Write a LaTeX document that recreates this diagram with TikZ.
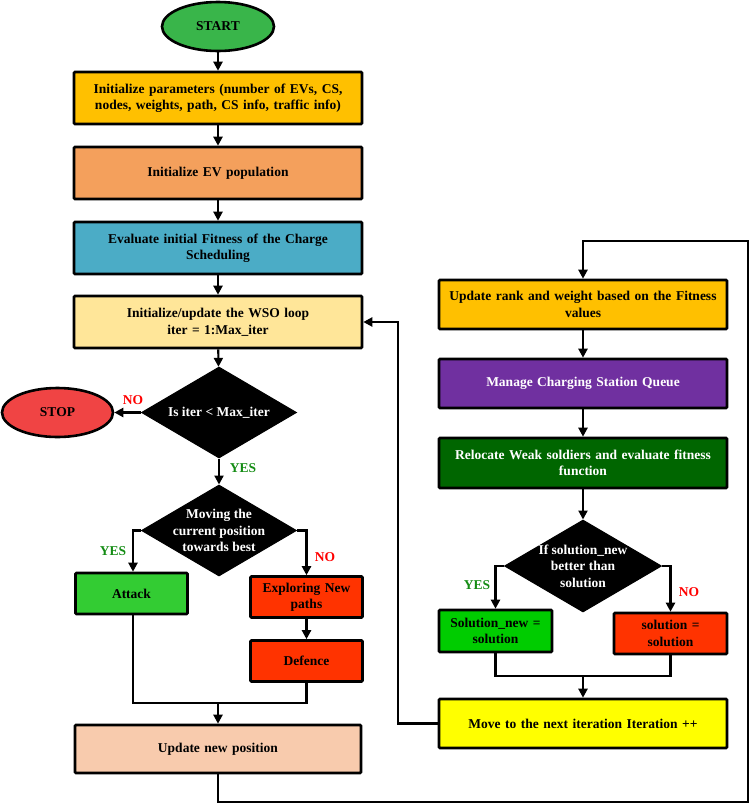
\documentclass[tikz,border=0pt]{standalone}
\usepackage{fontspec}
\setmainfont{Liberation Serif}
\usetikzlibrary{shapes.geometric,arrows.meta}
\definecolor{cstart}{RGB}{57,181,74}
\definecolor{cinit}{RGB}{255,192,0}
\definecolor{cpop}{RGB}{244,160,92}
\definecolor{ceval}{RGB}{75,172,198}
\definecolor{cwso}{RGB}{255,230,153}
\definecolor{cstop}{RGB}{240,68,68}
\definecolor{cattack}{RGB}{51,204,51}
\definecolor{cred}{RGB}{255,51,0}
\definecolor{cupd}{RGB}{248,203,173}
\definecolor{cpurple}{RGB}{112,48,160}
\definecolor{cdgreen}{RGB}{0,102,0}
\definecolor{cgreen}{RGB}{0,204,0}
\definecolor{cyellow}{RGB}{255,255,0}
\definecolor{yesgreen}{RGB}{20,140,20}
\definecolor{nored}{RGB}{255,0,0}
\tikzset{
  every node/.style={font=\fontsize{13.5}{16.5}\selectfont\bfseries},
  box/.style={draw=black, line width=2.6pt, rectangle, rounded corners=1pt, align=center, inner sep=2pt},
  bigbox/.style={box, minimum width=288pt, minimum height=52pt, text width=280pt},
  smallbox/.style={box, minimum width=111pt, minimum height=41pt, text width=108pt},
  oval/.style={draw=black, line width=2.6pt, ellipse, minimum width=111pt, minimum height=49pt, inner sep=0pt},
  dia/.style={draw=black, line width=1pt, fill=black, diamond, minimum width=155pt, minimum height=91pt, inner sep=0pt},
  dtext/.style={text=white, align=center, inner sep=0pt},
  conn/.style={line width=2.2pt},
  arr/.style={conn, -{Triangle[length=9pt,width=9pt]}},
  yes/.style={text=yesgreen},
  no/.style={text=nored}
}
\begin{document}
\begin{tikzpicture}[x=1pt,y=-1pt]
\useasboundingbox (0,0) rectangle (750,804);
% left column
\node[oval, fill=cstart, minimum width=112pt] (start) at (218,26.5) {START};
\node[bigbox, fill=cinit] (init) at (218,98) {Initialize parameters (number of EVs, CS,\\ nodes, weights, path, CS info, traffic info)};
\node[bigbox, fill=cpop] (pop) at (218,173) {Initialize EV population};
\node[bigbox, fill=ceval] (eval) at (218,248) {Evaluate initial Fitness of the Charge\\ Scheduling};
\node[bigbox, fill=cwso] (wso) at (218,322) {Initialize/update the WSO loop\\ iter = 1:Max\_iter};
\node[dia] (d1) at (219,412.5) {};
\node[dtext] (d1t) at (d1.center) {Is iter < Max\_iter};
\node[oval, fill=cstop] (stop) at (57.5,412.5) {STOP};
\node[dia] (d2) at (219,530.5) {};
\node[dtext] (d2t) at (d2.center) {Moving the\\ current position\\ towards best};
\node[smallbox, fill=cattack] (attack) at (131.5,593.5) {Attack};
\node[smallbox, fill=cred] (explore) at (306.5,597) {Exploring New\\ paths};
\node[smallbox, fill=cred] (defence) at (306.5,661) {Defence};
\node[bigbox, fill=cupd, minimum width=286pt, minimum height=48pt] (upd) at (218,749) {Update new position};
% right column
\node[bigbox, fill=cinit, minimum height=49pt] (rank) at (583,304.5) {Update rank and weight based on the Fitness\\ values};
\node[bigbox, fill=cpurple, text=white, minimum height=49pt] (manage) at (583,383.5) {Manage Charging Station Queue};
\node[bigbox, fill=cdgreen, text=white, minimum height=50pt] (reloc) at (583,463) {Relocate Weak soldiers and evaluate fitness\\ function};
\node[dia, minimum width=157pt, minimum height=92pt] (d3) at (583,566) {};
\node[dtext] (d3t) at (d3.center) {If solution\_new\\ better than\\ solution};
\node[smallbox, fill=cgreen, minimum width=113pt, minimum height=42pt] (solnew) at (495.5,631) {Solution\_new =\\ solution};
\node[smallbox, fill=cred, minimum width=113pt] (sol) at (670.5,633.5) {solution =\\ solution};
\node[bigbox, fill=cyellow, minimum height=49pt] (move) at (583,723.5) {Move to the next iteration Iteration ++};
% helper coordinates
\coordinate (m1) at (218,703);
\coordinate (m2) at (583,676);
\coordinate (cb) at (748,802);
\coordinate (ct) at (748,241);
\coordinate (cl) at (398,322);
% connectors left
\draw[arr] (start) -- (init);
\draw[arr] (init) -- (pop);
\draw[arr] (pop) -- (eval);
\draw[arr] (eval) -- (wso);
\draw[arr] (wso) -- (d1);
\draw[arr] (d1.west) -- (stop.east);
\draw[arr] (d1.south) -- (d2.north);
\draw[arr] (d2.west) -| ([xshift=1.5pt]attack.north);
\draw[arr] (d2.east) -| (explore.north);
\draw[arr] (explore) -- (defence);
\draw[conn] ([xshift=1.5pt]attack.south) |- (m1);
\draw[conn] (defence.south) |- (m1);
\draw[arr] (m1) -- (upd.north);
\draw[arr] (upd.south) |- (cb) -- (ct) -| (rank.north);
% connectors right
\draw[arr] (rank) -- (manage);
\draw[arr] (manage) -- (reloc);
\draw[arr] (reloc) -- (d3);
\draw[arr] (d3.west) -| (solnew.north);
\draw[arr] (d3.east) -| (sol.north);
\draw[conn] (solnew.south) |- (m2);
\draw[conn] (sol.south) |- (m2);
\draw[arr] (m2) -- (move.north);
\draw[arr] (move.west) -| (cl) -- (wso.east);
% labels
\node[no] (l1) at (133,400) {NO};
\node[yes] (l2) at (243,468) {YES};
\node[yes] (l3) at (113,551) {YES};
\node[no] (l4) at (325,557) {NO};
\node[yes] (l5) at (477,585) {YES};
\node[no] (l6) at (689,592) {NO};
\end{tikzpicture}
\end{document}
